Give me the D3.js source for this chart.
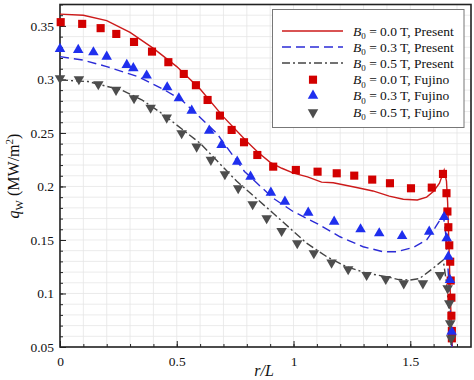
<!DOCTYPE html>
<html>
<head>
<meta charset="utf-8">
<script src="https://cdn.jsdelivr.net/npm/d3@7"></script>
<style>
html,body{margin:0;padding:0;background:#fff;}
svg{display:block;}
text{font-family:"Liberation Serif","Times New Roman",serif;}
</style>
</head>
<body>
<script>
// ---- data ----
const legendLabels = ["0.0 T, Present","0.3 T, Present","0.5 T, Present","0.0 T, Fujino","0.3 T, Fujino","0.5 T, Fujino"];
const xTicks = [0, 0.5, 1, 1.5];
const yTicks = [0.05, 0.1, 0.15, 0.2, 0.25, 0.3, 0.35];

const presentB00 = [[0,0.361],[0.1,0.360],[0.2,0.355],[0.3,0.344],[0.4,0.329],[0.5,0.312],[0.6,0.291],[0.7,0.265],[0.8,0.242],[0.85,0.2315],[0.9,0.2225],[0.95,0.217],[1.0,0.2125],[1.06,0.209],[1.12,0.204],[1.17,0.2035],[1.27,0.199],[1.34,0.1958],[1.41,0.191],[1.47,0.188],[1.53,0.1874],[1.57,0.190],[1.6,0.1955],[1.625,0.203],[1.645,0.2154],[1.655,0.205],[1.66,0.185],[1.665,0.15],[1.67,0.11],[1.675,0.075],[1.68,0.05]];
const presentB03 = [[0,0.3213],[0.1,0.318],[0.2,0.312],[0.335,0.3026],[0.449,0.290],[0.521,0.2808],[0.671,0.2497],[0.79,0.214],[0.913,0.189],[0.999,0.1765],[1.099,0.1656],[1.199,0.153],[1.298,0.1437],[1.384,0.139],[1.441,0.139],[1.513,0.143],[1.57,0.150],[1.605,0.161],[1.641,0.1734],[1.65,0.16],[1.66,0.13],[1.67,0.09],[1.678,0.05]];
const presentB05 = [[0,0.2995],[0.12,0.298],[0.265,0.290],[0.35,0.281],[0.435,0.2684],[0.6,0.2404],[0.756,0.205],[0.913,0.175],[1.056,0.147],[1.142,0.1344],[1.227,0.125],[1.313,0.119],[1.398,0.1157],[1.45,0.113],[1.5,0.1126],[1.54,0.114],[1.598,0.1236],[1.641,0.1313],[1.655,0.11],[1.665,0.085],[1.675,0.05]];

const fujinoB00 = [[0.003,0.3535],[0.095,0.3519],[0.174,0.3479],[0.241,0.3425],[0.317,0.335],[0.394,0.326],[0.464,0.3161],[0.53,0.3051],[0.582,0.2946],[0.632,0.2808],[0.685,0.2662],[0.735,0.2528],[0.788,0.2413],[0.845,0.2294],[0.913,0.2185],[1.010,0.2154],[1.103,0.2138],[1.185,0.2123],[1.260,0.2101],[1.337,0.2064],[1.413,0.2030],[1.503,0.1983],[1.592,0.1989],[1.640,0.2117],[1.655,0.1937],[1.659,0.1766],[1.663,0.1619],[1.667,0.1450],[1.671,0.1297],[1.673,0.1121],[1.676,0.0961],[1.676,0.0792],[1.678,0.0650],[1.678,0.0581]];
const fujinoB03 = [[0,0.3285],[0.078,0.3276],[0.143,0.3254],[0.2,0.3213],[0.286,0.3136],[0.314,0.3105],[0.371,0.3036],[0.459,0.2927],[0.509,0.2824],[0.564,0.2708],[0.639,0.2521],[0.692,0.2388],[0.759,0.2232],[0.816,0.2092],[0.903,0.1942],[0.963,0.1858],[1.063,0.1755],[1.174,0.1671],[1.287,0.1600],[1.367,0.1563],[1.465,0.1537],[1.581,0.1578],[1.645,0.1714],[1.656,0.1516],[1.663,0.1344],[1.670,0.1126],[1.677,0.0643]];
const fujinoB05 = [[0,0.3011],[0.081,0.3002],[0.164,0.2955],[0.24,0.2902],[0.317,0.2824],[0.388,0.2736],[0.457,0.2643],[0.521,0.2497],[0.585,0.2372],[0.646,0.2248],[0.706,0.2114],[0.763,0.1983],[0.825,0.1834],[0.885,0.1703],[0.949,0.1584],[1.016,0.1469],[1.087,0.1376],[1.163,0.1288],[1.234,0.1226],[1.313,0.1173],[1.395,0.1135],[1.472,0.1095],[1.554,0.1095],[1.627,0.1173],[1.660,0.1049],[1.667,0.0908],[1.671,0.0721],[1.675,0.0581]];

// ---- layout ----
const W = 474, H = 380;
const m = {left:60, right:3, top:4.5, bottom:33};
const x = d3.scaleLinear().domain([0, 1.76]).range([m.left, W - m.right]);
const y = d3.scaleLinear().domain([0.05, 0.37]).range([H - m.bottom, m.top]);

const svg = d3.select("body").append("svg").attr("width", W).attr("height", H);

// grid
const gx = d3.range(0, 1.76, 0.1);
const gy = d3.range(0.05, 0.3701, 0.01);
const grid = svg.append("g").attr("stroke", "#e6e6e6").attr("stroke-width", 0.8);
grid.selectAll(".gx").data(gx).join("line")
  .attr("x1", d => x(d)).attr("x2", d => x(d)).attr("y1", y(0.05)).attr("y2", y(0.37));
grid.selectAll(".gy").data(gy).join("line")
  .attr("y1", d => y(d)).attr("y2", d => y(d)).attr("x1", x(0)).attr("x2", x(1.76));

// minor ticks
const minorX = d3.range(0, 1.76, 0.1);
const minorY = d3.range(0.05, 0.3701, 0.01);
svg.append("g").attr("transform", `translate(0,${y(0.05)})`)
  .call(d3.axisBottom(x).tickValues(minorX).tickSize(-3).tickFormat(""))
  .call(g => g.select(".domain").remove())
  .selectAll("line").attr("stroke", "#222");
svg.append("g").attr("transform", `translate(${x(0)},0)`)
  .call(d3.axisLeft(y).tickValues(minorY).tickSize(-3).tickFormat(""))
  .call(g => g.select(".domain").remove())
  .selectAll("line").attr("stroke", "#222");

// major axes
const xAxis = svg.append("g").attr("transform", `translate(0,${y(0.05)})`)
  .call(d3.axisBottom(x).tickValues(xTicks).tickSize(-6).tickPadding(9).tickFormat(d3.format("~g")));
const yAxis = svg.append("g").attr("transform", `translate(${x(0)},0)`)
  .call(d3.axisLeft(y).tickValues(yTicks).tickSize(-6).tickPadding(6).tickFormat(d3.format("~g")));
[xAxis, yAxis].forEach(a => {
  a.select(".domain").remove();
  a.selectAll("line").attr("stroke", "#222").attr("stroke-width", 1);
  a.selectAll("text").attr("font-family", "Liberation Serif, serif").attr("font-size", 13.5).attr("fill", "#111");
});

// frame
svg.append("rect").attr("x", x(0)).attr("y", y(0.37)).attr("width", x(1.76) - x(0)).attr("height", y(0.05) - y(0.37))
  .attr("fill", "none").attr("stroke", "#222").attr("stroke-width", 1.6);

// lines
const line = d3.line().x(d => x(d[0])).y(d => y(d[1]));
const lineStyles = [
  {data: presentB00, color: "#cc1a1a", dash: null},
  {data: presentB03, color: "#2b2bd6", dash: "9,5"},
  {data: presentB05, color: "#444444", dash: "8,3,2,3"}
];
lineStyles.forEach(s => {
  svg.append("path").datum(s.data).attr("d", line).attr("fill", "none")
    .attr("stroke", s.color).attr("stroke-width", 1.4).attr("stroke-dasharray", s.dash);
});

// markers
const sq = d3.symbol().type(d3.symbolSquare).size(66);
const tri = d3.symbol().type(d3.symbolTriangle).size(48);
const markerStyles = [
  {data: fujinoB00, color: "#d20000", sym: sq, rot: 0},
  {data: fujinoB03, color: "#1f2fee", sym: tri, rot: 0},
  {data: fujinoB05, color: "#4d4d4d", sym: tri, rot: 180}
];
markerStyles.forEach(s => {
  svg.append("g").selectAll("path").data(s.data).join("path")
    .attr("d", s.sym())
    .attr("transform", d => `translate(${x(d[0])},${y(d[1])}) rotate(${s.rot})`)
    .attr("fill", s.color);
});

// legend
const lg = svg.append("g");
lg.append("rect").attr("x", 272.5).attr("y", 9.5).attr("width", 191.5).attr("height", 118)
  .attr("fill", "#fff").attr("stroke", "#777").attr("stroke-width", 1);
const rowY = [31, 47, 63, 79.7, 95.7, 112.3];
legendLabels.forEach((lab, i) => {
  const yy = rowY[i];
  if (i < 3) {
    const s = lineStyles[i];
    lg.append("line").attr("x1", 282).attr("x2", 343).attr("y1", yy).attr("y2", yy)
      .attr("stroke", s.color).attr("stroke-width", 1.4).attr("stroke-dasharray", s.dash);
  } else {
    const s = markerStyles[i - 3];
    lg.append("path").attr("d", s.sym()).attr("fill", s.color)
      .attr("transform", `translate(313,${yy}) rotate(${s.rot})`);
  }
  const t = lg.append("text").attr("x", 353).attr("y", yy + 4.5).attr("font-size", 13.5).attr("fill", "#111");
  t.append("tspan").attr("font-style", "italic").text("B");
  t.append("tspan").attr("font-size", 9).attr("dy", 3.5).text("0");
  t.append("tspan").attr("dy", -3.5).text(" = " + lab);
});

// axis titles
svg.append("text").attr("x", 264).attr("y", 376).attr("text-anchor", "middle")
  .attr("font-size", 16).attr("font-style", "italic").attr("fill", "#111").text("r/L");
const yl = svg.append("text").attr("transform", "translate(19,176) rotate(-90)")
  .attr("text-anchor", "middle").attr("font-size", 16).attr("fill", "#111");
yl.append("tspan").attr("font-style", "italic").text("q");
yl.append("tspan").attr("font-size", 11).attr("dy", 3.5).text("W");
yl.append("tspan").attr("dy", -3.5).text(" (MW/m");
yl.append("tspan").attr("font-size", 11).attr("dy", -6).text("2");
yl.append("tspan").attr("dy", 6).text(")");
</script>
</body>
</html>
